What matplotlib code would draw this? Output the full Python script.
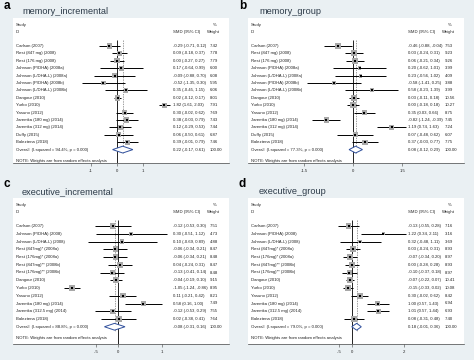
import numpy as np
import matplotlib
matplotlib.use('Agg')
import matplotlib.pyplot as plt
from matplotlib.transforms import blended_transform_factory
from matplotlib.patches import Polygon

# ---------------- data ----------------
mem_studies = ["Carlson (2007)", "Rest (847 mg) (2008)", "Rest (176 mg) (2008)",
               "Johnson (P/DHA) (2008a)", "Johnson (L/DHA-L) (2008a)",
               "Johnson (P/DHA) (2008b)", "Johnson (L/DHA-L) (2008b)",
               "Dangour (2010)", "Yurko (2010)", "Yasuno (2012)",
               "Jaremka (180 mg) (2014)", "Jaremka (312 mg) (2014)",
               "Duffy (2015)", "Baleztena (2018)"]
exe_studies = ["Carlson (2007)", "Johnson (P/DHA) (2008)", "Johnson (L/DHA-L) (2008)",
               "Rest (847mg)* (2008a)", "Rest (176mg)* (2008a)",
               "Rest (847mg)** (2008b)", "Rest (176mg)** (2008b)",
               "Dangour (2010)", "Yurko (2010)", "Yasuno (2012)",
               "Jaremka (180 mg) (2014)", "Jaremka (312.5 mg) (2014)",
               "Baleztena (2018)"]

a_smd = [-0.29, 0.09, 0.00, 0.17, -0.09, -0.52, 0.35, 0.02, 1.82, 0.30, 0.38, 0.12, 0.06, 0.39]
a_lo = [-0.71, -0.18, -0.27, -0.64, -0.88, -1.35, -0.45, -0.12, 1.61, -0.02, -0.03, -0.29, -0.50, -0.01]
a_hi = [0.12, 0.37, 0.27, 0.99, 0.70, 0.30, 1.15, 0.17, 2.03, 0.62, 0.79, 0.53, 0.61, 0.79]
a_wt = [7.42, 7.78, 7.79, 6.00, 6.08, 5.95, 6.06, 8.01, 7.91, 7.69, 7.43, 7.44, 6.87, 7.46]
a_overall = [0.22, -0.17, 0.61]
a_i2 = "94.4%"
a_ticks = [-1, 0, 1]
a_ticklabels = ["-1", "0", "1"]

b_smd = [-0.46, 0.03, 0.06, 0.20, 0.23, -0.58, 0.58, 0.03, 0.00, 0.35, -0.82, 1.19, 0.07, 0.37]
b_lo = [-0.88, -0.24, -0.21, -0.62, -0.56, -1.41, -0.23, -0.11, -0.18, 0.03, -1.24, 0.74, -0.48, -0.03]
b_hi = [-0.04, 0.31, 0.34, 1.01, 1.02, 0.25, 1.39, 0.18, 0.18, 0.66, -0.39, 1.63, 0.62, 0.77]
b_wt = [7.53, 9.23, 9.26, 3.99, 4.09, 3.88, 3.99, 10.56, 10.27, 8.75, 7.45, 7.24, 6.07, 7.75]
b_overall = [0.08, -0.12, 0.29]
b_i2 = "77.3%"
b_ticks = [-1.5, 0, 1.5]
b_ticklabels = ["-1.5", "0", "1.5"]

c_smd = [-0.12, 0.30, 0.10, -0.06, -0.06, 0.04, -0.13, -0.04, -1.05, 0.11, 0.58, -0.12, 0.02]
c_lo = [-0.53, -0.51, -0.69, -0.34, -0.34, -0.24, -0.41, -0.19, -1.24, -0.21, 0.16, -0.53, -0.38]
c_hi = [0.30, 1.12, 0.89, 0.21, 0.21, 0.31, 0.14, 0.10, -0.86, 0.42, 1.00, 0.29, 0.41]
c_wt = [7.51, 4.73, 4.88, 8.47, 8.48, 8.47, 8.48, 9.15, 8.95, 8.21, 7.49, 7.55, 7.64]
c_overall = [-0.08, -0.31, 0.16]
c_i2 = "88.8%"
c_ticks = [-0.5, 0, 1]
c_ticklabels = ["-.5", "0", "1"]

d_smd = [-0.13, 1.22, 0.32, 0.03, -0.07, 0.00, -0.10, -0.07, -0.15, 0.30, 1.00, 1.01, 0.08]
d_lo = [-0.55, 0.34, -0.48, -0.24, -0.34, -0.28, -0.37, -0.22, -0.33, -0.02, 0.57, 0.57, -0.31]
d_hi = [0.28, 2.11, 1.11, 0.31, 0.20, 0.28, 0.18, 0.07, 0.02, 0.62, 1.43, 1.44, 0.48]
d_wt = [7.16, 3.16, 3.69, 8.93, 8.97, 8.93, 8.97, 10.41, 10.08, 8.42, 6.94, 6.93, 7.40]
d_overall = [0.18, -0.01, 0.36]
d_i2 = "79.0%"
d_ticks = [-0.5, 0, 2]
d_ticklabels = ["-.5", "0", "2"]

titles = ["memory_incremental", "memory_group", "executive_incremental", "executive_group"]
letters = ["a", "b", "c", "d"]

# ---------------- style / layout ----------------
W, H = 474, 360
BG = '#eaf0f3'
TXT = '#222222'
plt.rcParams['font.family'] = ['Liberation Sans', 'DejaVu Sans']
FS = 3.1

fig = plt.figure(figsize=(W / 100, H / 100), dpi=100)
fig.patch.set_facecolor(BG)


def draw_panel(rect, x0, ppu, row0, dy, studies, smd, lo, hi, wt, overall, i2,
               ticks, ticklabels, title, letter, letter_xy, title_xy):
    left, top, right, bottom = rect
    ax = fig.add_axes([left / W, 1 - bottom / H, (right - left) / W, (bottom - top) / H])
    ax.set_facecolor('white')
    ax.set_xlim((left - x0) / ppu, (right - x0) / ppu)
    ax.set_ylim((bottom - row0) / dy, (top - row0) / dy)
    for s in ['top', 'left', 'right']:
        ax.spines[s].set_visible(False)
    ax.spines['bottom'].set_color('#444444')
    ax.spines['bottom'].set_linewidth(0.5)
    ax.set_yticks([])
    ax.set_xticks(ticks)
    ax.set_xticklabels(ticklabels)
    ax.tick_params(axis='x', length=2, width=0.4, pad=2.2, labelsize=FS,
                   colors='#444444', labelcolor=TXT)

    n = len(studies)
    rows = np.arange(n)
    ov_row = n
    ybot = (bottom - row0) / dy
    ytop_line = -6.5 / dy

    ax.vlines(0, ytop_line, ybot, color='black', lw=0.6, zorder=1)
    ax.vlines(overall[0], ytop_line, ov_row + 0.5, color='#777777', lw=0.5,
              linestyles=(0, (2, 1.5)), zorder=1)
    ax.hlines(rows, lo, hi, color='black', lw=0.7, zorder=2)
    ax.scatter(smd, rows, s=np.array(wt) * 1.9, marker='s', color='#a8a8a8', lw=0, zorder=3)
    ax.scatter(smd, rows, s=2.6, marker='s', color='black', lw=0, zorder=4)
    hh = 3.4 / dy
    ax.add_patch(Polygon([[overall[1], ov_row], [overall[0], ov_row - hh],
                          [overall[2], ov_row], [overall[0], ov_row + hh]],
                         closed=True, fc='white', ec='#2f4f9c', lw=0.7, zorder=5))

    tr = blended_transform_factory(ax.transAxes, ax.transData)
    xs, xci, xw = 0.014, 0.74, 0.912
    kw = dict(transform=tr, fontsize=FS, color=TXT, va='center')
    ax.text(xs, -21 / dy, "Study", **kw)
    ax.text(xs, -14 / dy, "ID", **kw)
    ax.text(xci, -14 / dy, "SMD (95% CI)", **kw)
    ax.text(0.935, -21 / dy, "%", ha='center', **kw)
    ax.text(0.898, -14 / dy, "Weight", **kw)
    for i in range(n):
        ax.text(xs, i, studies[i], **kw)
        ax.text(xci, i, f"{smd[i]:.2f} ({lo[i]:.2f}, {hi[i]:.2f})", **kw)
        ax.text(xw, i, f"{wt[i]:.2f}", **kw)
    ax.text(xs, ov_row, f"Overall  (I-squared = {i2}, p = 0.000)", **kw)
    ax.text(xci, ov_row, f"{overall[0]:.2f} ({overall[1]:.2f}, {overall[2]:.2f})", **kw)
    ax.text(xw, ov_row, "100.00", **kw)
    ax.text(xs, ov_row + 11.5 / dy, "NOTE: Weights are from random effects analysis", **kw)

    fig.text(letter_xy[0] / W, 1 - letter_xy[1] / H, letter, fontsize=8.5,
             fontweight='bold', color='black', va='center', ha='left')
    fig.text(title_xy[0] / W, 1 - title_xy[1] / H, title, fontsize=6.6,
             color='#2c3a48', va='center', ha='left')
    return ax


draw_panel((13, 18, 229, 163), 117, 26.0, 46, 7.4, mem_studies, a_smd, a_lo, a_hi, a_wt,
           a_overall, a_i2, a_ticks, a_ticklabels, titles[0], letters[0], (4, 6), (22, 12))
draw_panel((248, 18, 464, 163), 353, 32.7, 46, 7.4, mem_studies, b_smd, b_lo, b_hi, b_wt,
           b_overall, b_i2, b_ticks, b_ticklabels, titles[1], letters[1], (239, 6), (259, 12))
draw_panel((13, 198, 229, 344), 118, 43.7, 226, 7.75, exe_studies, c_smd, c_lo, c_hi, c_wt,
           c_overall, c_i2, c_ticks, c_ticklabels, titles[2], letters[2], (4, 184), (22, 192))
draw_panel((248, 198, 464, 344), 352, 25.8, 226, 7.75, exe_studies, d_smd, d_lo, d_hi, d_wt,
           d_overall, d_i2, d_ticks, d_ticklabels, titles[3], letters[3], (239, 184), (259, 192))

fig.savefig('out.png', dpi=100, facecolor=BG)
